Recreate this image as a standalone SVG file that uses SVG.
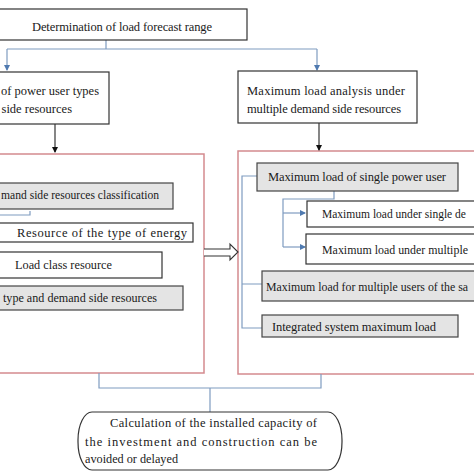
<svg xmlns="http://www.w3.org/2000/svg" width="474" height="474" viewBox="0 0 474 474">
<defs>
<style>
text{font-family:"Liberation Serif","Times New Roman",serif;font-size:12.5px;fill:#1a1a1a}
.sm{font-size:11.6px}
.box{fill:#fff;stroke:#333;stroke-width:1.2}
.gbox{fill:#e4e4e4;stroke:#444;stroke-width:1.2}
.red{fill:#fff;stroke:#d48a8e;stroke-width:1.5}
.blue{fill:none;stroke:#7f9cc0;stroke-width:1.2}
.blk{fill:none;stroke:#222;stroke-width:1.1}
</style>
<marker id="ab" markerWidth="6" markerHeight="6" refX="5" refY="3" orient="auto" markerUnits="userSpaceOnUse">
<path d="M0,0 L6,3 L0,6 Z" fill="#4f7ab0"/>
</marker>
<marker id="ak" markerWidth="6" markerHeight="6" refX="5" refY="3" orient="auto" markerUnits="userSpaceOnUse">
<path d="M0,0 L6,3 L0,6 Z" fill="#111"/>
</marker>
</defs>
<rect width="474" height="474" fill="#fff"/>

<g id="red-left"><rect class="red" x="-5" y="154" width="209" height="219"/></g>
<g id="red-right"><rect class="red" x="238" y="151" width="245" height="223"/></g>

<g id="connectors">
<path class="blue" d="M106,40 V49 M7,49 H317"/>
<path class="blue" d="M7,49 V70" marker-end="url(#ab)"/>
<path class="blue" d="M317,49 V70" marker-end="url(#ab)"/>
<path class="blk" d="M55,124 V152" marker-end="url(#ak)"/>
<path class="blk" d="M319,123 V150" marker-end="url(#ak)"/>
<path class="blue" d="M0,215 H30 V211"/>
<path class="blue" d="M257,176 H242 V328 H262 M242,284 H262"/>
<path class="blue" d="M334,191 V199 H283 V247"/>
<path class="blue" d="M283,213 H305" marker-end="url(#ab)"/>
<path class="blue" d="M283,247 H305" marker-end="url(#ab)"/>
<path d="M204,249 H230 V244 L238,252 L230,260 V256 H204" fill="#fff" stroke="#333" stroke-width="1.1"/>
<path class="blue" d="M99,373 V388 H321 V374 M210,388 V412"/>
</g>

<g id="n-top"><rect class="box" x="-5" y="9" width="252" height="31"/>
<text x="32" y="31" textLength="180" lengthAdjust="spacing">Determination of load forecast range</text></g>

<g id="n-left2"><rect class="box" x="-5" y="72" width="114" height="52"/>
<text x="1" y="95" textLength="98" lengthAdjust="spacingAndGlyphs">of power user types</text>
<text x="72" y="113" text-anchor="end">side resources</text></g>

<g id="n-right2"><rect class="box" x="238" y="71" width="179" height="52"/>
<text x="247" y="95" textLength="158" lengthAdjust="spacing">Maximum load analysis under</text>
<text x="247" y="113" textLength="154" lengthAdjust="spacing">multiple demand side resources</text></g>

<g id="n-classif"><rect class="gbox" x="-5" y="183" width="178" height="26"/>
<text x="1" y="199" textLength="158" lengthAdjust="spacingAndGlyphs">mand side resources classification</text></g>
<g id="n-energy"><rect class="box" x="-5" y="223" width="198" height="19"/>
<text x="17" y="237" textLength="170" lengthAdjust="spacing">Resource of the type of energy</text></g>
<g id="n-loadclass"><rect class="box" x="-5" y="252" width="167" height="26"/>
<text x="15" y="269" textLength="97" lengthAdjust="spacingAndGlyphs">Load class resource</text></g>
<g id="n-typedemand"><rect class="gbox" x="-5" y="286" width="188" height="24"/>
<text x="3" y="302" textLength="154" lengthAdjust="spacingAndGlyphs">type and demand side resources</text></g>

<g id="n-single"><rect class="gbox" x="257" y="163" width="201" height="28"/>
<text x="268" y="181" textLength="178" lengthAdjust="spacing">Maximum load of single power user</text></g>
<g id="n-single-de"><rect class="box" x="307" y="201" width="180" height="26"/>
<text class="sm" x="322" y="218" textLength="144" lengthAdjust="spacingAndGlyphs">Maximum load under single de</text></g>
<g id="n-multiple"><rect class="box" x="306" y="234" width="180" height="30"/>
<text x="322" y="254" textLength="146" lengthAdjust="spacingAndGlyphs">Maximum load under multiple</text></g>
<g id="n-multiusers"><rect class="gbox" x="262" y="271" width="225" height="30"/>
<text class="sm" x="266" y="291" textLength="202" lengthAdjust="spacingAndGlyphs">Maximum load for multiple users of the sa</text></g>
<g id="n-integrated"><rect class="gbox" x="262" y="315" width="196" height="22"/>
<text x="272" y="331" textLength="164" lengthAdjust="spacing">Integrated system maximum load</text></g>

<g id="n-bottom"><rect x="78" y="412" width="264" height="58" rx="14" ry="28" fill="#fff" stroke="#333" stroke-width="1.2"/>
<text x="110" y="427" textLength="207" lengthAdjust="spacing">Calculation of the installed capacity of</text>
<text x="85" y="446" textLength="232" lengthAdjust="spacing">the investment and construction can be</text>
<text x="85" y="463" textLength="93" lengthAdjust="spacingAndGlyphs">avoided or delayed</text></g>
</svg>
